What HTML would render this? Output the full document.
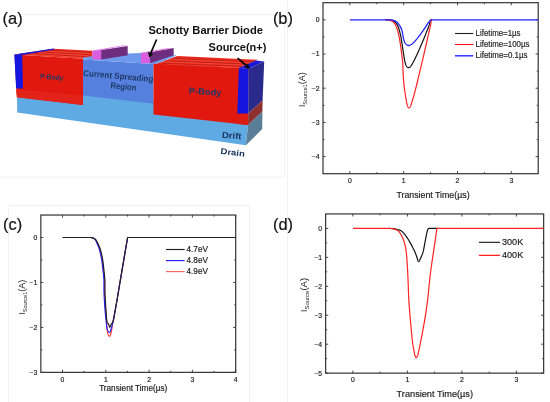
<!DOCTYPE html>
<html><head><meta charset="utf-8"><style>
html,body{margin:0;padding:0;background:#fff;}
svg{display:block;font-family:'Liberation Sans', Arial, sans-serif;}
</style></head><body>
<svg width="550" height="402" viewBox="0 0 550 402">
<rect width="550" height="402" fill="#fff"/>
<g stroke="#f2f2f2" stroke-width="1" fill="none">
<path d="M22,14.5H284.5V177M0,177H284.5"/>
<path d="M287.5,0V402"/>
<path d="M8.5,402V205.5H249.5V402"/>
</g>
<text x="2.6" y="24.4" font-size="16.4" text-anchor="start" font-weight="normal" fill="#111" stroke="#111" stroke-width="0.18" >(a)</text>
<text x="272.9" y="24.1" font-size="16.4" text-anchor="start" font-weight="normal" fill="#111" stroke="#111" stroke-width="0.18" >(b)</text>
<text x="3" y="229.6" font-size="16.4" text-anchor="start" font-weight="normal" fill="#111" stroke="#111" stroke-width="0.18" >(c)</text>
<text x="273" y="229.6" font-size="16.4" text-anchor="start" font-weight="normal" fill="#111" stroke="#111" stroke-width="0.18" >(d)</text>
<g>
<polygon points="17,93 83,93 153.5,100 248.3,113 248,125 245.9,145.3 17.2,112.6" fill="#5faae3" />
<polygon points="248,125 262.4,111.2 262.2,128.9 245.9,145.3" fill="#5a7e98" />
<polygon points="14.4,54.6 83,58.8 83,104.9 16.9,97.2" fill="#e0180e" />
<polygon points="16,89.3 83,95.3 83,104.9 16.9,97.2" fill="#e3221a" />
<polygon points="14.4,54.6 53.5,48.8 92.4,50.8 92.4,59.6 83,58.8" fill="#e82a1e" />
<path d="M46.88,50.23L90.33,52.56M39.05,51.92L87.89,54.64M31.23,53.61L85.44,56.72" stroke="#b81a14" stroke-width="0.8" fill="none"/><path d="M46.88,51.13L90.33,53.46M39.05,52.82L87.89,55.54M31.23,54.51L85.44,57.62" stroke="#f5503f" stroke-width="0.8" fill="none"/>
<polygon points="14.4,54.6 22.2,54.9 23,88.5 16.1,88.5" fill="#1515e0" />
<polygon points="14.4,54.4 53.5,48.4 54.5,49.5 22.5,54.9" fill="#1a1ad8" />
<polygon points="83,59.4 153.5,64 153.5,103.7 83,95.5" fill="#5580de" />
<polygon points="83,59.4 83,57.5 101,55 128,53.5 141,53 150,52 176.5,55.6 154.4,64.7 153.5,64" fill="#6f99ec" />
<polygon points="101.1,50 127.7,46.1 127.7,55.3 101.1,59.6" fill="#6e2d7e" />
<polygon points="92.4,50.6 122.2,45.5 127.7,45.3 101.1,50" fill="#e479e8" />
<polygon points="92.4,50.6 101.1,50 101.1,59.6 92.4,59.6" fill="#dc5ee0" />
<polygon points="149.8,52.3 173.7,48.1 173.7,55.3 150.2,63.3" fill="#6e2d7e" />
<polygon points="140.9,52.8 149.8,52.3 173.7,48.1 165,48.4" fill="#e479e8" />
<polygon points="140.9,52.8 149.8,52.3 149.8,63.3 140.9,63.3" fill="#dc5ee0" />
<polygon points="154.4,64.7 177.3,56 258,59.8 238.9,67.9" fill="#e82a1e" />
<path d="M171.12,58.35L252.84,61.99M164.71,60.79L247.5,64.25M158.29,63.22L242.15,66.52" stroke="#b81a14" stroke-width="0.8" fill="none"/><path d="M171.12,59.25L252.84,62.89M164.71,61.69L247.5,65.16M158.29,64.12L242.15,67.42" stroke="#f5503f" stroke-width="0.8" fill="none"/>
<polygon points="153.5,63.8 238.9,67.9 248.5,68.9 248,125 153.5,114.4" fill="#e0180e" />
<polygon points="237.3,113.5 248.3,113.5 248,125 237.3,123.9" fill="#dc1c12" />
<polygon points="238.9,67.9 248.5,68.9 248.3,113.5 237.3,113.5" fill="#1515e0" />
<polygon points="238.9,67.9 255.8,60.6 264.2,61.5 248.5,68.9" fill="#1a1ad8" />
<polygon points="248.5,68.9 264.2,61.5 262.6,100.4 248.3,113.5" fill="#2a2a8c" />
<polygon points="248.3,113.5 262.6,100.4 262.4,111.2 248,125" fill="#8e2f30" />
<g stroke="#000" stroke-width="1.7" fill="none"><path d="M156.6,39.5L150.6,53.5"/><path d="M237.6,58.2L246.8,65.9"/></g>
<polygon points="149.3,57.6 147.9,51.9 153.2,53.9" fill="#000" />
<polygon points="249.8,68.8 244.7,67.9 248,63.6" fill="#000" />
<text x="39.9" y="78.6" font-size="7.1" font-weight="bold" fill="#1f3868" textLength="23.4" lengthAdjust="spacingAndGlyphs" transform="rotate(4 39.9 78.6)">P-Body</text>
<text x="83" y="75.9" font-size="8.7" font-weight="bold" fill="#1f3868" textLength="70.4" lengthAdjust="spacingAndGlyphs" transform="rotate(5 83 75.9)">Current Spreading</text>
<text x="110.3" y="88.3" font-size="8.7" font-weight="bold" fill="#1f3868" textLength="26.0" lengthAdjust="spacingAndGlyphs" transform="rotate(5 110.3 88.3)">Region</text>
<text x="188.6" y="93.7" font-size="9.0" font-weight="bold" fill="#1f3868" textLength="32.8" lengthAdjust="spacingAndGlyphs" transform="rotate(4 188.6 93.7)">P-Body</text>
<text x="221.7" y="137.7" font-size="8.6" font-weight="bold" fill="#1a3560" textLength="19.6" lengthAdjust="spacingAndGlyphs" transform="rotate(5 221.7 137.7)">Drift</text>
<text x="220.3" y="153.8" font-size="8.4" font-weight="bold" fill="#1a3560" textLength="24.4" lengthAdjust="spacingAndGlyphs" transform="rotate(7 220.3 153.8)">Drain</text>
<text x="148.4" y="34.1" font-size="11.15" text-anchor="start" font-weight="bold" fill="#111" >Schotty Barrier Diode</text>
<text x="208.6" y="51.4" font-size="11" text-anchor="start" font-weight="bold" fill="#111" >Source(n+)</text>
</g>
<rect x="323" y="2.7" width="215.2" height="171" fill="none" stroke="#333333" stroke-width="1.2"/>
<path d="M349.9,173.7v-2.6M349.9,2.7v2.6M403.7,173.7v-2.6M403.7,2.7v2.6M457.5,173.7v-2.6M457.5,2.7v2.6M511.3,173.7v-2.6M511.3,2.7v2.6M376.8,173.7v-1.5M376.8,2.7v1.5M430.6,173.7v-1.5M430.6,2.7v1.5M484.4,173.7v-1.5M484.4,2.7v1.5M323,19.8h2.6M538.2,19.8h-2.6M323,54h2.6M538.2,54h-2.6M323,88.2h2.6M538.2,88.2h-2.6M323,122.4h2.6M538.2,122.4h-2.6M323,156.6h2.6M538.2,156.6h-2.6M323,36.9h1.5M538.2,36.9h-1.5M323,71.1h1.5M538.2,71.1h-1.5M323,105.3h1.5M538.2,105.3h-1.5M323,139.5h1.5M538.2,139.5h-1.5" stroke="#333333" stroke-width="0.9" fill="none"/>
<text x="349.9" y="183" font-size="6.8" text-anchor="middle" font-weight="normal" fill="#222" stroke="#222" stroke-width="0.18" >0</text>
<text x="403.7" y="183" font-size="6.8" text-anchor="middle" font-weight="normal" fill="#222" stroke="#222" stroke-width="0.18" >1</text>
<text x="457.5" y="183" font-size="6.8" text-anchor="middle" font-weight="normal" fill="#222" stroke="#222" stroke-width="0.18" >2</text>
<text x="511.3" y="183" font-size="6.8" text-anchor="middle" font-weight="normal" fill="#222" stroke="#222" stroke-width="0.18" >3</text>
<text x="319.5" y="22.2" font-size="6.8" text-anchor="end" font-weight="normal" fill="#222" stroke="#222" stroke-width="0.18" >0</text>
<text x="319.5" y="56.4" font-size="6.8" text-anchor="end" font-weight="normal" fill="#222" stroke="#222" stroke-width="0.18" >−1</text>
<text x="319.5" y="90.6" font-size="6.8" text-anchor="end" font-weight="normal" fill="#222" stroke="#222" stroke-width="0.18" >−2</text>
<text x="319.5" y="124.8" font-size="6.8" text-anchor="end" font-weight="normal" fill="#222" stroke="#222" stroke-width="0.18" >−3</text>
<text x="319.5" y="159" font-size="6.8" text-anchor="end" font-weight="normal" fill="#222" stroke="#222" stroke-width="0.18" >−4</text>
<g clip-path="url(#cb)">
<path d="M386,19.8 L386.46,19.82 L386.93,19.84 L387.4,19.84 L387.87,19.85 L388.33,19.86 L388.8,19.87 L389.26,19.9 L389.72,19.94 L390.16,20.01 L390.6,20.1 L391.02,20.21 L391.43,20.33 L391.84,20.46 L392.25,20.61 L392.65,20.77 L393.04,20.95 L393.42,21.14 L393.79,21.34 L394.15,21.56 L394.5,21.8 L394.84,22.05 L395.16,22.3 L395.47,22.57 L395.77,22.85 L396.06,23.15 L396.34,23.47 L396.61,23.81 L396.88,24.18 L397.14,24.57 L397.4,25 L397.78,25.75 L398.15,26.59 L398.5,27.52 L398.83,28.52 L399.14,29.56 L399.44,30.64 L399.73,31.73 L400,32.81 L400.25,33.88 L400.5,34.9 L400.73,35.88 L400.93,36.87 L401.11,37.86 L401.29,38.85 L401.45,39.84 L401.6,40.83 L401.75,41.82 L401.89,42.81 L402.04,43.81 L402.2,44.8 L402.36,45.8 L402.51,46.81 L402.66,47.83 L402.81,48.85 L402.95,49.87 L403.1,50.88 L403.24,51.88 L403.39,52.87 L403.54,53.85 L403.7,54.8 L403.84,55.65 L403.98,56.51 L404.11,57.37 L404.25,58.22 L404.39,59.05 L404.53,59.87 L404.68,60.66 L404.84,61.41 L405.01,62.13 L405.2,62.8 L405.34,63.26 L405.47,63.7 L405.61,64.14 L405.75,64.56 L405.9,64.96 L406.06,65.35 L406.22,65.7 L406.4,66.03 L406.59,66.33 L406.8,66.6 L407.08,66.89 L407.39,67.16 L407.71,67.38 L408.05,67.56 L408.38,67.67 L408.7,67.7 L409.02,67.64 L409.34,67.5 L409.66,67.29 L409.97,67.02 L410.29,66.72 L410.6,66.4 L410.88,66.08 L411.15,65.72 L411.43,65.32 L411.7,64.88 L411.97,64.42 L412.24,63.94 L412.51,63.46 L412.77,62.97 L413.04,62.48 L413.3,62 L413.58,61.49 L413.86,60.98 L414.13,60.47 L414.4,59.95 L414.67,59.42 L414.94,58.88 L415.22,58.32 L415.5,57.74 L415.8,57.14 L416.1,56.5 L416.55,55.53 L417.03,54.5 L417.53,53.4 L418.04,52.25 L418.55,51.08 L419.08,49.88 L419.6,48.68 L420.11,47.5 L420.61,46.33 L421.1,45.2 L421.55,44.15 L421.99,43.11 L422.44,42.07 L422.87,41.04 L423.3,40.01 L423.73,38.99 L424.15,37.97 L424.57,36.94 L424.99,35.92 L425.4,34.9 L425.8,33.89 L426.21,32.86 L426.62,31.81 L427.03,30.77 L427.43,29.73 L427.83,28.71 L428.2,27.72 L428.56,26.76 L428.89,25.85 L429.2,25 L429.39,24.42 L429.56,23.82 L429.71,23.23 L429.85,22.65 L429.98,22.09 L430.12,21.57 L430.26,21.1 L430.42,20.69 L430.6,20.35 L430.8,20.1 L431.08,19.93 L431.38,19.86 L431.69,19.84 L432,19.8" fill="none" stroke="#111" stroke-width="1.2" stroke-linejoin="round"/>
<path d="M385,19.8 L385.44,19.83 L385.89,19.86 L386.34,19.88 L386.79,19.9 L387.24,19.92 L387.68,19.94 L388.12,19.98 L388.56,20.03 L388.98,20.11 L389.4,20.2 L389.83,20.32 L390.26,20.45 L390.68,20.59 L391.09,20.75 L391.5,20.92 L391.9,21.11 L392.28,21.32 L392.65,21.55 L393,21.8 L393.31,22.05 L393.6,22.3 L393.88,22.57 L394.14,22.85 L394.4,23.15 L394.65,23.47 L394.89,23.82 L395.13,24.18 L395.37,24.58 L395.6,25 L395.97,25.75 L396.32,26.6 L396.66,27.53 L396.99,28.53 L397.31,29.57 L397.61,30.64 L397.9,31.73 L398.18,32.82 L398.45,33.88 L398.7,34.9 L398.93,35.88 L399.15,36.87 L399.35,37.86 L399.53,38.85 L399.71,39.84 L399.88,40.83 L400.04,41.82 L400.19,42.81 L400.35,43.81 L400.5,44.8 L400.65,45.8 L400.8,46.81 L400.94,47.82 L401.07,48.84 L401.2,49.86 L401.33,50.87 L401.45,51.87 L401.57,52.86 L401.69,53.84 L401.8,54.8 L401.9,55.65 L402,56.48 L402.11,57.3 L402.2,58.11 L402.3,58.91 L402.39,59.72 L402.48,60.52 L402.56,61.34 L402.63,62.16 L402.7,63 L402.76,63.91 L402.81,64.82 L402.85,65.73 L402.88,66.65 L402.91,67.58 L402.94,68.51 L402.97,69.46 L403.01,70.42 L403.05,71.4 L403.1,72.4 L403.17,73.58 L403.24,74.79 L403.31,76.02 L403.38,77.27 L403.47,78.54 L403.55,79.81 L403.65,81.09 L403.76,82.37 L403.87,83.64 L404,84.9 L404.14,86.19 L404.31,87.51 L404.48,88.86 L404.67,90.2 L404.86,91.54 L405.05,92.86 L405.25,94.14 L405.44,95.36 L405.63,96.52 L405.8,97.6 L405.91,98.3 L406.02,98.98 L406.13,99.63 L406.23,100.25 L406.34,100.86 L406.44,101.45 L406.55,102.01 L406.66,102.56 L406.78,103.09 L406.9,103.6 L407.01,104.06 L407.12,104.52 L407.23,104.96 L407.34,105.38 L407.46,105.78 L407.59,106.16 L407.74,106.5 L407.9,106.8 L408.1,107.11 L408.31,107.41 L408.54,107.66 L408.77,107.83 L409,107.9 L409.24,107.84 L409.49,107.67 L409.74,107.41 L409.98,107.11 L410.2,106.8 L410.38,106.5 L410.54,106.16 L410.69,105.79 L410.83,105.4 L410.96,104.97 L411.1,104.53 L411.24,104.07 L411.4,103.6 L411.59,103.03 L411.79,102.44 L411.99,101.81 L412.2,101.16 L412.41,100.48 L412.62,99.78 L412.84,99.06 L413.06,98.32 L413.28,97.57 L413.5,96.8 L413.79,95.75 L414.1,94.66 L414.41,93.51 L414.72,92.34 L415.04,91.13 L415.35,89.91 L415.67,88.67 L415.99,87.44 L416.3,86.21 L416.6,85 L416.91,83.76 L417.21,82.51 L417.51,81.25 L417.81,79.99 L418.11,78.72 L418.41,77.45 L418.7,76.19 L419,74.92 L419.3,73.66 L419.6,72.4 L419.9,71.15 L420.21,69.89 L420.51,68.63 L420.82,67.37 L421.13,66.11 L421.43,64.86 L421.73,63.62 L422.03,62.39 L422.32,61.19 L422.6,60 L422.84,58.96 L423.08,57.93 L423.32,56.92 L423.55,55.92 L423.77,54.93 L424,53.95 L424.22,52.97 L424.45,51.98 L424.67,51 L424.9,50 L425.13,49 L425.36,48 L425.59,47 L425.82,46 L426.05,45 L426.28,44 L426.51,43 L426.74,42 L426.97,41 L427.2,40 L427.43,38.99 L427.67,37.96 L427.91,36.92 L428.15,35.88 L428.39,34.84 L428.63,33.82 L428.86,32.81 L429.08,31.84 L429.3,30.9 L429.5,30 L429.65,29.33 L429.79,28.68 L429.94,28.05 L430.07,27.43 L430.21,26.83 L430.33,26.24 L430.46,25.66 L430.58,25.09 L430.69,24.54 L430.8,24 L430.88,23.51 L430.95,22.99 L431,22.47 L431.06,21.97 L431.11,21.48 L431.17,21.04 L431.26,20.65 L431.36,20.33 L431.5,20.1 L431.74,19.93 L432.02,19.86 L432.3,19.8" fill="none" stroke="#f22" stroke-width="1.2" stroke-linejoin="round"/>
<path d="M349.9,19.8 L388,19.8 L388.45,19.82 L388.91,19.84 L389.36,19.84 L389.82,19.85 L390.28,19.86 L390.73,19.88 L391.18,19.9 L391.63,19.95 L392.07,20.01 L392.5,20.1 L392.92,20.21 L393.35,20.33 L393.77,20.46 L394.19,20.61 L394.6,20.77 L395,20.94 L395.4,21.13 L395.78,21.34 L396.15,21.56 L396.5,21.8 L396.83,22.05 L397.14,22.33 L397.44,22.62 L397.73,22.92 L398.01,23.24 L398.28,23.57 L398.54,23.92 L398.79,24.27 L399.05,24.63 L399.3,25 L399.59,25.43 L399.87,25.89 L400.15,26.36 L400.42,26.85 L400.69,27.35 L400.94,27.85 L401.18,28.37 L401.41,28.88 L401.61,29.39 L401.8,29.9 L401.96,30.39 L402.09,30.88 L402.2,31.38 L402.29,31.88 L402.38,32.38 L402.46,32.89 L402.54,33.39 L402.62,33.9 L402.7,34.4 L402.8,34.9 L402.9,35.4 L403,35.91 L403.1,36.43 L403.2,36.94 L403.3,37.46 L403.4,37.96 L403.51,38.46 L403.63,38.96 L403.76,39.44 L403.9,39.9 L404.03,40.31 L404.16,40.71 L404.28,41.12 L404.42,41.51 L404.56,41.9 L404.71,42.28 L404.88,42.64 L405.06,42.98 L405.27,43.3 L405.5,43.6 L405.78,43.9 L406.08,44.19 L406.41,44.47 L406.76,44.74 L407.12,44.97 L407.49,45.17 L407.86,45.33 L408.24,45.45 L408.6,45.5 L408.97,45.49 L409.34,45.43 L409.72,45.31 L410.1,45.16 L410.48,44.96 L410.86,44.74 L411.25,44.51 L411.63,44.26 L412,44 L412.41,43.7 L412.82,43.37 L413.22,43.02 L413.61,42.64 L414.01,42.24 L414.41,41.82 L414.82,41.37 L415.23,40.9 L415.66,40.41 L416.1,39.9 L416.79,39.09 L417.52,38.18 L418.28,37.21 L419.06,36.18 L419.85,35.11 L420.65,34.03 L421.43,32.95 L422.19,31.89 L422.92,30.87 L423.6,29.9 L424.15,29.1 L424.69,28.29 L425.22,27.47 L425.74,26.66 L426.25,25.87 L426.74,25.1 L427.21,24.37 L427.66,23.68 L428.09,23.06 L428.5,22.5 L428.78,22.13 L429.04,21.77 L429.29,21.44 L429.53,21.13 L429.77,20.85 L430.01,20.6 L430.25,20.38 L430.5,20.2 L430.8,20.05 L431.1,19.97 L431.4,19.91 L431.7,19.86 L432,19.8 L538,19.8" fill="none" stroke="#22f" stroke-width="1.3" stroke-linejoin="round"/>
</g>
<defs><clipPath id="cb"><rect x="323.0" y="2.6999999999999993" width="215.19999999999993" height="171.00000000000003"/></clipPath></defs>
<path d="M455,33.5H473.3" stroke="#222" stroke-width="1.1"/>
<text x="475.6" y="36" font-size="8.7" text-anchor="start" font-weight="normal" fill="#222" stroke="#222" stroke-width="0.18" textLength="44.9" lengthAdjust="spacingAndGlyphs">Lifetime=1µs</text>
<path d="M455,44.5H473.3" stroke="#f11" stroke-width="1.1"/>
<text x="475.6" y="47" font-size="8.7" text-anchor="start" font-weight="normal" fill="#222" stroke="#222" stroke-width="0.18" textLength="53.8" lengthAdjust="spacingAndGlyphs">Lifetime=100µs</text>
<path d="M455,55.8H473.3" stroke="#33f" stroke-width="1.5"/>
<text x="475.6" y="58.3" font-size="8.7" text-anchor="start" font-weight="normal" fill="#222" stroke="#222" stroke-width="0.18" textLength="51.9" lengthAdjust="spacingAndGlyphs">Lifetime=0.1µs</text>
<text x="433" y="197.8" font-size="8.8" text-anchor="middle" font-weight="normal" fill="#222" stroke="#222" stroke-width="0.18" >Transient Time(µs)</text>
<text transform="translate(305.3,107.0) rotate(-90)" font-size="8.4" fill="#222">I<tspan font-size="5.5" dy="1.7">Source1</tspan><tspan dy="-1.7" font-size="9">(A)</tspan></text>
<rect x="40.85" y="215.03" width="194.85" height="157.33" fill="none" stroke="#333333" stroke-width="1.2"/>
<path d="M62.5,372.35v-2.6M62.5,215.03v2.6M105.8,372.35v-2.6M105.8,215.03v2.6M149.1,372.35v-2.6M149.1,215.03v2.6M192.4,372.35v-2.6M192.4,215.03v2.6M235.7,372.35v-2.6M235.7,215.03v2.6M84.15,372.35v-1.5M84.15,215.03v1.5M127.45,372.35v-1.5M127.45,215.03v1.5M170.75,372.35v-1.5M170.75,215.03v1.5M214.05,372.35v-1.5M214.05,215.03v1.5M40.85,237.5h2.6M235.7,237.5h-2.6M40.85,282.45h2.6M235.7,282.45h-2.6M40.85,327.4h2.6M235.7,327.4h-2.6M40.85,372.35h2.6M235.7,372.35h-2.6M40.85,259.98h1.5M235.7,259.98h-1.5M40.85,304.93h1.5M235.7,304.93h-1.5M40.85,349.88h1.5M235.7,349.88h-1.5" stroke="#333333" stroke-width="0.9" fill="none"/>
<text x="62.5" y="381.65" font-size="6.8" text-anchor="middle" font-weight="normal" fill="#222" stroke="#222" stroke-width="0.18" >0</text>
<text x="105.8" y="381.65" font-size="6.8" text-anchor="middle" font-weight="normal" fill="#222" stroke="#222" stroke-width="0.18" >1</text>
<text x="149.1" y="381.65" font-size="6.8" text-anchor="middle" font-weight="normal" fill="#222" stroke="#222" stroke-width="0.18" >2</text>
<text x="192.4" y="381.65" font-size="6.8" text-anchor="middle" font-weight="normal" fill="#222" stroke="#222" stroke-width="0.18" >3</text>
<text x="235.7" y="381.65" font-size="6.8" text-anchor="middle" font-weight="normal" fill="#222" stroke="#222" stroke-width="0.18" >4</text>
<text x="37.35" y="239.9" font-size="6.8" text-anchor="end" font-weight="normal" fill="#222" stroke="#222" stroke-width="0.18" >0</text>
<text x="37.35" y="284.85" font-size="6.8" text-anchor="end" font-weight="normal" fill="#222" stroke="#222" stroke-width="0.18" >−1</text>
<text x="37.35" y="329.8" font-size="6.8" text-anchor="end" font-weight="normal" fill="#222" stroke="#222" stroke-width="0.18" >−2</text>
<text x="37.35" y="374.75" font-size="6.8" text-anchor="end" font-weight="normal" fill="#222" stroke="#222" stroke-width="0.18" >−3</text>
<g clip-path="url(#cc)">
<path d="M88,237.5 L88.45,237.52 L88.91,237.53 L89.38,237.53 L89.85,237.53 L90.32,237.54 L90.77,237.55 L91.22,237.58 L91.66,237.62 L92.08,237.7 L92.47,237.8 L92.88,237.94 L93.28,238.1 L93.67,238.29 L94.04,238.49 L94.39,238.72 L94.72,238.96 L95.04,239.22 L95.33,239.5 L95.6,239.79 L95.83,240.11 L96.03,240.43 L96.22,240.78 L96.41,241.15 L96.59,241.54 L96.78,241.96 L96.99,242.4 L97.28,243 L97.58,243.65 L97.89,244.34 L98.2,245.08 L98.53,245.84 L98.84,246.63 L99.15,247.44 L99.45,248.26 L99.74,249.08 L100,249.9 L100.28,250.83 L100.54,251.79 L100.78,252.78 L101.02,253.78 L101.24,254.79 L101.45,255.82 L101.65,256.85 L101.84,257.87 L102.03,258.89 L102.2,259.9 L102.36,260.89 L102.5,261.88 L102.64,262.87 L102.76,263.85 L102.87,264.84 L102.98,265.83 L103.09,266.82 L103.19,267.82 L103.29,268.81 L103.4,269.8 L103.51,270.79 L103.63,271.78 L103.74,272.76 L103.86,273.74 L103.97,274.72 L104.07,275.71 L104.17,276.71 L104.26,277.72 L104.34,278.75 L104.4,279.8 L104.45,280.99 L104.48,282.19 L104.49,283.41 L104.48,284.64 L104.47,285.88 L104.46,287.14 L104.45,288.43 L104.45,289.73 L104.47,291.05 L104.5,292.4 L104.56,294.04 L104.63,295.75 L104.72,297.51 L104.81,299.31 L104.91,301.12 L105.02,302.93 L105.14,304.72 L105.25,306.47 L105.38,308.17 L105.5,309.8 L105.61,311.11 L105.72,312.39 L105.84,313.64 L105.96,314.87 L106.09,316.08 L106.22,317.27 L106.34,318.45 L106.46,319.64 L106.58,320.82 L106.7,322 L106.79,323.15 L106.87,324.34 L106.93,325.55 L106.98,326.76 L107.04,327.96 L107.12,329.11 L107.21,330.21 L107.33,331.24 L107.49,332.18 L107.7,333 L107.86,333.5 L108.05,334.02 L108.24,334.52 L108.45,334.99 L108.67,335.42 L108.89,335.78 L109.1,336.06 L109.31,336.24 L109.5,336.3 L109.68,336.23 L109.86,336.04 L110.03,335.76 L110.2,335.4 L110.37,334.97 L110.53,334.5 L110.69,334 L110.85,333.5 L111,333 L111.23,332.17 L111.43,331.23 L111.63,330.2 L111.81,329.1 L111.99,327.95 L112.16,326.76 L112.33,325.55 L112.51,324.34 L112.7,323.15 L112.9,322 L113.12,320.81 L113.35,319.63 L113.59,318.45 L113.83,317.27 L114.07,316.07 L114.31,314.87 L114.56,313.64 L114.81,312.39 L115.05,311.11 L115.3,309.8 L115.6,308.17 L115.9,306.47 L116.21,304.72 L116.52,302.93 L116.83,301.12 L117.13,299.31 L117.44,297.51 L117.73,295.75 L118.02,294.04 L118.3,292.4 L118.53,291.06 L118.75,289.75 L118.96,288.47 L119.17,287.21 L119.38,285.97 L119.58,284.74 L119.78,283.52 L119.99,282.29 L120.19,281.05 L120.4,279.8 L120.4,279.8 L121.12,275.57 L121.84,271.34 L122.56,267.11 L123.28,262.88 L124,258.65 L124.72,254.42 L125.44,250.19 L126.16,245.96 L126.88,241.73 L127.6,237.5" fill="none" stroke="#f33" stroke-width="1.15" stroke-linejoin="round"/>
<path d="M88,237.5 L88.45,237.52 L88.91,237.53 L89.38,237.53 L89.84,237.53 L90.31,237.53 L90.77,237.55 L91.21,237.57 L91.65,237.62 L92.06,237.7 L92.45,237.8 L92.84,237.94 L93.23,238.1 L93.6,238.29 L93.95,238.49 L94.29,238.72 L94.6,238.96 L94.9,239.22 L95.17,239.5 L95.4,239.8 L95.61,240.11 L95.78,240.44 L95.94,240.79 L96.09,241.15 L96.24,241.55 L96.4,241.96 L96.58,242.4 L96.85,243 L97.13,243.65 L97.43,244.35 L97.73,245.08 L98.05,245.85 L98.36,246.64 L98.67,247.44 L98.96,248.26 L99.24,249.08 L99.5,249.9 L99.77,250.83 L100.03,251.8 L100.28,252.78 L100.51,253.78 L100.73,254.8 L100.95,255.82 L101.15,256.85 L101.34,257.87 L101.53,258.89 L101.7,259.9 L101.86,260.89 L102,261.88 L102.14,262.87 L102.26,263.85 L102.37,264.84 L102.48,265.83 L102.59,266.82 L102.69,267.82 L102.79,268.81 L102.9,269.8 L103.01,270.79 L103.13,271.78 L103.24,272.76 L103.36,273.74 L103.47,274.72 L103.57,275.71 L103.67,276.71 L103.76,277.72 L103.84,278.75 L103.9,279.8 L103.95,280.99 L103.98,282.19 L103.99,283.41 L103.98,284.64 L103.97,285.88 L103.96,287.14 L103.95,288.43 L103.95,289.73 L103.97,291.05 L104,292.4 L104.06,294.04 L104.13,295.75 L104.22,297.51 L104.31,299.31 L104.41,301.12 L104.52,302.93 L104.64,304.72 L104.75,306.47 L104.88,308.17 L105,309.8 L105.11,311.12 L105.22,312.43 L105.33,313.72 L105.45,314.99 L105.57,316.24 L105.7,317.46 L105.82,318.65 L105.95,319.8 L106.07,320.92 L106.2,322 L106.29,322.81 L106.36,323.61 L106.42,324.4 L106.48,325.17 L106.55,325.92 L106.62,326.64 L106.72,327.33 L106.85,327.99 L107,328.62 L107.2,329.2 L107.38,329.63 L107.59,330.08 L107.82,330.54 L108.06,330.98 L108.31,331.39 L108.57,331.76 L108.82,332.08 L109.07,332.31 L109.29,332.46 L109.5,332.5 L109.7,332.42 L109.88,332.22 L110.05,331.92 L110.22,331.54 L110.38,331.11 L110.54,330.64 L110.69,330.15 L110.84,329.66 L111,329.2 L111.2,328.61 L111.4,327.98 L111.59,327.32 L111.78,326.62 L111.97,325.9 L112.16,325.16 L112.34,324.4 L112.53,323.61 L112.71,322.81 L112.9,322 L113.14,320.92 L113.38,319.8 L113.62,318.65 L113.86,317.46 L114.1,316.24 L114.34,314.99 L114.57,313.72 L114.81,312.43 L115.06,311.12 L115.3,309.8 L115.6,308.17 L115.9,306.47 L116.21,304.72 L116.52,302.93 L116.83,301.12 L117.13,299.31 L117.44,297.51 L117.73,295.75 L118.02,294.04 L118.3,292.4 L118.53,291.06 L118.75,289.75 L118.96,288.47 L119.17,287.21 L119.38,285.97 L119.58,284.74 L119.78,283.52 L119.99,282.29 L120.19,281.05 L120.4,279.8 L120.4,279.8 L121.12,275.57 L121.84,271.34 L122.56,267.11 L123.28,262.88 L124,258.65 L124.72,254.42 L125.44,250.19 L126.16,245.96 L126.88,241.73 L127.6,237.5" fill="none" stroke="#22f" stroke-width="1.15" stroke-linejoin="round"/>
<path d="M62.5,237.5 L88,237.5 L88.46,237.52 L88.92,237.53 L89.39,237.53 L89.85,237.54 L90.32,237.54 L90.78,237.55 L91.23,237.58 L91.67,237.63 L92.1,237.7 L92.5,237.8 L92.92,237.94 L93.34,238.1 L93.74,238.29 L94.12,238.49 L94.49,238.72 L94.85,238.96 L95.18,239.22 L95.5,239.5 L95.79,239.79 L96.05,240.1 L96.29,240.43 L96.51,240.78 L96.73,241.14 L96.94,241.54 L97.17,241.95 L97.4,242.4 L97.71,242.99 L98.02,243.64 L98.35,244.34 L98.67,245.07 L99,245.84 L99.33,246.63 L99.64,247.44 L99.95,248.26 L100.23,249.08 L100.5,249.9 L100.78,250.83 L101.04,251.79 L101.29,252.78 L101.53,253.78 L101.75,254.79 L101.96,255.82 L102.16,256.85 L102.35,257.87 L102.53,258.89 L102.7,259.9 L102.86,260.89 L103,261.88 L103.14,262.87 L103.26,263.85 L103.37,264.84 L103.48,265.83 L103.59,266.82 L103.69,267.82 L103.79,268.81 L103.9,269.8 L104.01,270.79 L104.13,271.78 L104.24,272.76 L104.36,273.74 L104.47,274.72 L104.57,275.71 L104.67,276.71 L104.76,277.72 L104.84,278.75 L104.9,279.8 L104.95,280.99 L104.98,282.19 L104.99,283.41 L104.98,284.64 L104.97,285.88 L104.96,287.14 L104.95,288.43 L104.95,289.73 L104.97,291.05 L105,292.4 L105.06,294.04 L105.13,295.75 L105.22,297.51 L105.31,299.31 L105.41,301.12 L105.52,302.93 L105.64,304.72 L105.75,306.47 L105.88,308.17 L106,309.8 L106.1,311.16 L106.18,312.55 L106.26,313.96 L106.34,315.35 L106.43,316.7 L106.53,317.99 L106.65,319.19 L106.8,320.28 L106.98,321.22 L107.2,322 L107.39,322.45 L107.61,322.8 L107.83,323.09 L108.06,323.36 L108.29,323.65 L108.5,324 L108.66,324.36 L108.81,324.8 L108.95,325.27 L109.09,325.76 L109.23,326.23 L109.36,326.65 L109.5,326.99 L109.65,327.21 L109.8,327.3 L109.96,327.22 L110.11,327 L110.27,326.66 L110.43,326.24 L110.59,325.76 L110.76,325.27 L110.93,324.79 L111.11,324.36 L111.3,324 L111.52,323.7 L111.74,323.44 L111.98,323.21 L112.22,322.97 L112.46,322.71 L112.69,322.4 L112.9,322 L113.2,321.22 L113.48,320.28 L113.73,319.2 L113.97,318 L114.19,316.71 L114.41,315.35 L114.62,313.96 L114.84,312.55 L115.06,311.16 L115.3,309.8 L115.6,308.17 L115.9,306.47 L116.21,304.72 L116.52,302.93 L116.83,301.12 L117.13,299.31 L117.44,297.51 L117.73,295.75 L118.02,294.04 L118.3,292.4 L118.53,291.06 L118.75,289.75 L118.96,288.47 L119.17,287.21 L119.38,285.97 L119.58,284.74 L119.78,283.52 L119.99,282.29 L120.19,281.05 L120.4,279.8 L120.4,279.8 L121.12,275.57 L121.84,271.34 L122.56,267.11 L123.28,262.88 L124,258.65 L124.72,254.42 L125.44,250.19 L126.16,245.96 L126.88,241.73 L127.6,237.5 L235.7,237.5" fill="none" stroke="#222" stroke-width="1.15" stroke-linejoin="round"/>
</g>
<defs><clipPath id="cc"><rect x="40.85" y="215.025" width="194.85" height="157.32500000000002"/></clipPath></defs>
<path d="M166,249.50H184.7" stroke="#222" stroke-width="1.15"/>
<text x="186.5" y="252.2" font-size="8.2" text-anchor="start" font-weight="normal" fill="#222" stroke="#222" stroke-width="0.18" >4.7eV</text>
<path d="M166,260.60H184.7" stroke="#22f" stroke-width="1.15"/>
<text x="186.5" y="263.3" font-size="8.2" text-anchor="start" font-weight="normal" fill="#222" stroke="#222" stroke-width="0.18" >4.8eV</text>
<path d="M166,271.60H184.7" stroke="#f66" stroke-width="1.15"/>
<text x="186.5" y="274.3" font-size="8.2" text-anchor="start" font-weight="normal" fill="#222" stroke="#222" stroke-width="0.18" >4.9eV</text>
<text x="133.2" y="391.2" font-size="8.2" text-anchor="middle" font-weight="normal" fill="#222" stroke="#222" stroke-width="0.18" >Transient Time(µs)</text>
<text transform="translate(25.3,314.6) rotate(-90)" font-size="8.4" fill="#222">I<tspan font-size="5.5" dy="1.7">Source1</tspan><tspan dy="-1.7" font-size="9">(A)</tspan></text>
<rect x="325.65" y="213.93" width="218" height="159.22" fill="none" stroke="#333333" stroke-width="1.2"/>
<path d="M352.9,373.15v-2.6M352.9,213.93v2.6M407.4,373.15v-2.6M407.4,213.93v2.6M461.9,373.15v-2.6M461.9,213.93v2.6M516.4,373.15v-2.6M516.4,213.93v2.6M380.15,373.15v-1.5M380.15,213.93v1.5M434.65,373.15v-1.5M434.65,213.93v1.5M489.15,373.15v-1.5M489.15,213.93v1.5M325.65,228.4h2.6M543.65,228.4h-2.6M325.65,257.35h2.6M543.65,257.35h-2.6M325.65,286.3h2.6M543.65,286.3h-2.6M325.65,315.25h2.6M543.65,315.25h-2.6M325.65,344.2h2.6M543.65,344.2h-2.6M325.65,373.15h2.6M543.65,373.15h-2.6M325.65,242.88h1.5M543.65,242.88h-1.5M325.65,271.82h1.5M543.65,271.82h-1.5M325.65,300.77h1.5M543.65,300.77h-1.5M325.65,329.73h1.5M543.65,329.73h-1.5M325.65,358.68h1.5M543.65,358.68h-1.5" stroke="#333333" stroke-width="0.9" fill="none"/>
<text x="352.9" y="382.45" font-size="6.8" text-anchor="middle" font-weight="normal" fill="#222" stroke="#222" stroke-width="0.18" >0</text>
<text x="407.4" y="382.45" font-size="6.8" text-anchor="middle" font-weight="normal" fill="#222" stroke="#222" stroke-width="0.18" >1</text>
<text x="461.9" y="382.45" font-size="6.8" text-anchor="middle" font-weight="normal" fill="#222" stroke="#222" stroke-width="0.18" >2</text>
<text x="516.4" y="382.45" font-size="6.8" text-anchor="middle" font-weight="normal" fill="#222" stroke="#222" stroke-width="0.18" >3</text>
<text x="322.15" y="230.8" font-size="6.8" text-anchor="end" font-weight="normal" fill="#222" stroke="#222" stroke-width="0.18" >0</text>
<text x="322.15" y="259.75" font-size="6.8" text-anchor="end" font-weight="normal" fill="#222" stroke="#222" stroke-width="0.18" >−1</text>
<text x="322.15" y="288.7" font-size="6.8" text-anchor="end" font-weight="normal" fill="#222" stroke="#222" stroke-width="0.18" >−2</text>
<text x="322.15" y="317.65" font-size="6.8" text-anchor="end" font-weight="normal" fill="#222" stroke="#222" stroke-width="0.18" >−3</text>
<text x="322.15" y="346.6" font-size="6.8" text-anchor="end" font-weight="normal" fill="#222" stroke="#222" stroke-width="0.18" >−4</text>
<text x="322.15" y="375.55" font-size="6.8" text-anchor="end" font-weight="normal" fill="#222" stroke="#222" stroke-width="0.18" >−5</text>
<g clip-path="url(#cd)">
<path d="M389,228.4 L389.5,228.43 L390.01,228.45 L390.52,228.46 L391.03,228.48 L391.54,228.5 L392.04,228.52 L392.55,228.55 L393.04,228.59 L393.53,228.64 L394,228.7 L394.42,228.77 L394.84,228.85 L395.25,228.94 L395.66,229.03 L396.06,229.13 L396.45,229.24 L396.84,229.35 L397.23,229.46 L397.62,229.58 L398,229.7 L398.39,229.82 L398.78,229.92 L399.15,230.03 L399.53,230.13 L399.9,230.25 L400.27,230.39 L400.64,230.56 L401.02,230.76 L401.4,231 L401.91,231.39 L402.44,231.86 L402.97,232.38 L403.51,232.96 L404.04,233.58 L404.57,234.23 L405.1,234.89 L405.61,235.57 L406.12,236.24 L406.6,236.9 L407.09,237.6 L407.57,238.31 L408.04,239.05 L408.5,239.8 L408.95,240.56 L409.39,241.33 L409.83,242.1 L410.26,242.87 L410.68,243.64 L411.1,244.4 L411.51,245.15 L411.92,245.9 L412.33,246.66 L412.73,247.42 L413.12,248.19 L413.51,248.95 L413.88,249.7 L414.24,250.44 L414.58,251.18 L414.9,251.9 L415.16,252.52 L415.41,253.14 L415.65,253.75 L415.87,254.36 L416.09,254.97 L416.3,255.56 L416.5,256.14 L416.7,256.71 L416.9,257.27 L417.1,257.8 L417.26,258.25 L417.41,258.73 L417.55,259.23 L417.69,259.73 L417.83,260.21 L417.97,260.65 L418.11,261.03 L418.26,261.32 L418.43,261.52 L418.6,261.6 L418.79,261.54 L419,261.36 L419.22,261.07 L419.45,260.7 L419.68,260.26 L419.91,259.77 L420.14,259.26 L420.37,258.75 L420.59,258.26 L420.8,257.8 L421.05,257.27 L421.3,256.73 L421.55,256.16 L421.79,255.59 L422.03,255 L422.26,254.39 L422.49,253.78 L422.7,253.16 L422.91,252.53 L423.1,251.9 L423.29,251.19 L423.47,250.47 L423.63,249.73 L423.78,248.98 L423.92,248.22 L424.06,247.45 L424.19,246.68 L424.32,245.92 L424.46,245.16 L424.6,244.4 L424.74,243.65 L424.89,242.89 L425.03,242.12 L425.16,241.36 L425.3,240.59 L425.44,239.83 L425.58,239.08 L425.72,238.34 L425.86,237.61 L426,236.9 L426.13,236.26 L426.26,235.62 L426.39,234.97 L426.52,234.32 L426.65,233.69 L426.78,233.08 L426.91,232.49 L427.04,231.95 L427.17,231.45 L427.3,231 L427.44,230.56 L427.56,230.16 L427.69,229.81 L427.84,229.49 L428,229.2 L428.18,228.96 L428.39,228.77 L428.59,228.59 L428.8,228.4 L437.5,228.4" fill="none" stroke="#111" stroke-width="1.2" stroke-linejoin="round"/>
<path d="M352.9,228.4 L387,228.4 L387.56,228.43 L388.12,228.44 L388.69,228.46 L389.26,228.47 L389.83,228.49 L390.39,228.51 L390.95,228.53 L391.48,228.57 L392,228.63 L392.5,228.7 L392.93,228.78 L393.35,228.87 L393.76,228.96 L394.16,229.07 L394.55,229.18 L394.92,229.3 L395.29,229.43 L395.65,229.56 L396,229.7 L396.37,229.85 L396.73,229.99 L397.07,230.13 L397.4,230.29 L397.73,230.48 L398.06,230.71 L398.4,231 L398.79,231.39 L399.18,231.86 L399.58,232.39 L399.98,232.97 L400.38,233.59 L400.77,234.24 L401.15,234.9 L401.52,235.57 L401.87,236.24 L402.2,236.9 L402.53,237.6 L402.85,238.32 L403.16,239.05 L403.45,239.8 L403.72,240.56 L403.99,241.33 L404.24,242.1 L404.47,242.87 L404.69,243.64 L404.9,244.4 L405.09,245.13 L405.25,245.85 L405.4,246.56 L405.53,247.26 L405.66,247.98 L405.77,248.7 L405.88,249.45 L405.98,250.23 L406.09,251.04 L406.2,251.9 L406.35,253.18 L406.49,254.55 L406.63,255.99 L406.76,257.49 L406.88,259.03 L406.99,260.59 L407.1,262.17 L407.2,263.74 L407.3,265.29 L407.4,266.8 L407.49,268.28 L407.57,269.75 L407.65,271.21 L407.72,272.66 L407.78,274.13 L407.84,275.6 L407.91,277.09 L407.97,278.59 L408.03,280.13 L408.1,281.7 L408.18,283.53 L408.25,285.4 L408.31,287.31 L408.38,289.24 L408.45,291.19 L408.52,293.16 L408.6,295.14 L408.69,297.13 L408.79,299.11 L408.9,301.1 L409.03,303.18 L409.18,305.28 L409.33,307.39 L409.5,309.52 L409.67,311.65 L409.85,313.78 L410.03,315.92 L410.22,318.05 L410.41,320.18 L410.6,322.3 L410.79,324.46 L410.99,326.69 L411.2,328.97 L411.41,331.25 L411.62,333.52 L411.84,335.73 L412.05,337.85 L412.27,339.86 L412.49,341.72 L412.7,343.4 L412.83,344.32 L412.96,345.2 L413.09,346.02 L413.22,346.81 L413.35,347.56 L413.48,348.28 L413.61,348.98 L413.74,349.66 L413.87,350.34 L414,351 L414.1,351.52 L414.19,352.03 L414.27,352.53 L414.36,353.02 L414.45,353.5 L414.54,353.96 L414.64,354.41 L414.75,354.83 L414.87,355.23 L415,355.6 L415.18,356.04 L415.37,356.49 L415.57,356.91 L415.78,357.26 L415.99,357.5 L416.2,357.6 L416.4,357.54 L416.61,357.35 L416.81,357.07 L417.02,356.73 L417.22,356.37 L417.4,356 L417.55,355.66 L417.69,355.3 L417.81,354.9 L417.93,354.48 L418.04,354.04 L418.15,353.58 L418.26,353.1 L418.37,352.61 L418.48,352.11 L418.6,351.6 L418.76,350.9 L418.92,350.19 L419.08,349.45 L419.24,348.69 L419.41,347.9 L419.57,347.08 L419.74,346.22 L419.92,345.33 L420.1,344.39 L420.3,343.4 L420.64,341.69 L421.01,339.81 L421.41,337.79 L421.83,335.67 L422.25,333.47 L422.68,331.22 L423.11,328.95 L423.53,326.68 L423.93,324.46 L424.3,322.3 L424.66,320.18 L425.01,318.05 L425.35,315.92 L425.69,313.79 L426.02,311.65 L426.34,309.52 L426.65,307.4 L426.95,305.29 L427.23,303.18 L427.5,301.1 L427.74,299.12 L427.96,297.13 L428.17,295.14 L428.37,293.16 L428.56,291.19 L428.75,289.24 L428.93,287.31 L429.11,285.4 L429.3,283.53 L429.5,281.7 L429.68,280.13 L429.85,278.59 L430.02,277.08 L430.2,275.6 L430.37,274.12 L430.55,272.66 L430.73,271.21 L430.91,269.75 L431.1,268.28 L431.3,266.8 L431.5,265.31 L431.71,263.82 L431.93,262.33 L432.15,260.84 L432.38,259.35 L432.6,257.86 L432.83,256.37 L433.05,254.88 L433.28,253.39 L433.5,251.9 L433.72,250.4 L433.94,248.9 L434.16,247.4 L434.38,245.9 L434.6,244.4 L434.82,242.9 L435.04,241.4 L435.26,239.9 L435.48,238.4 L435.7,236.9 L435.7,236.9 L435.82,236.05 L435.94,235.2 L436.06,234.35 L436.18,233.5 L436.3,232.65 L436.42,231.8 L436.54,230.95 L436.66,230.1 L436.78,229.25 L436.9,228.4 L543.65,228.4" fill="none" stroke="#f22" stroke-width="1.2" stroke-linejoin="round"/>
</g>
<defs><clipPath id="cd"><rect x="325.65" y="213.925" width="218.0" height="159.22499999999997"/></clipPath></defs>
<path d="M478.9,242.35H500.1" stroke="#333" stroke-width="1.25"/>
<text x="502" y="245.45" font-size="9.1" text-anchor="start" font-weight="normal" fill="#222" stroke="#222" stroke-width="0.18" >300K</text>
<path d="M478.9,255.35H500.1" stroke="#f22" stroke-width="1.25"/>
<text x="502" y="258.45" font-size="9.1" text-anchor="start" font-weight="normal" fill="#222" stroke="#222" stroke-width="0.18" >400K</text>
<text x="434.8" y="397.3" font-size="9.2" text-anchor="middle" font-weight="normal" fill="#222" stroke="#222" stroke-width="0.18" >Transient Time(µs)</text>
<text transform="translate(307.4,312.0) rotate(-90)" font-size="8.6" fill="#222">I<tspan font-size="6" dy="1.9">Source</tspan><tspan dy="-1.9" font-size="9.5">(A)</tspan></text>
</svg></body></html>
